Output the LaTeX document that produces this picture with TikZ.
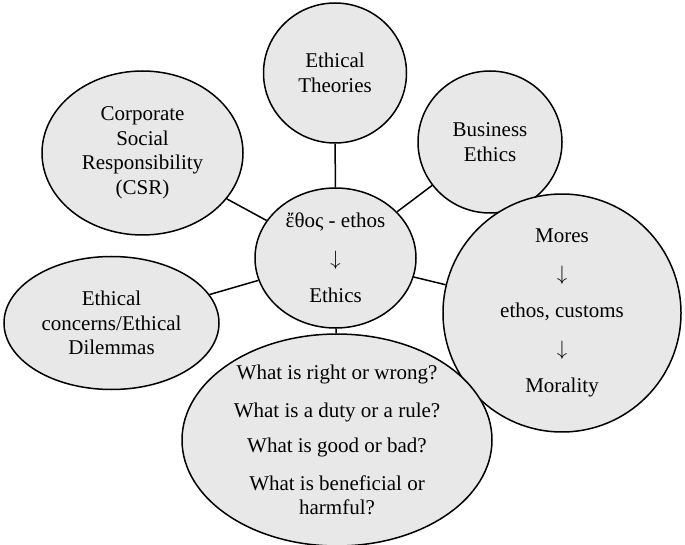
\documentclass[tikz,border=0pt]{standalone}
\usepackage{fontspec}
\setmainfont{Liberation Serif}
\usetikzlibrary{shapes.geometric}

\begin{document}
\begin{tikzpicture}[x=1pt,y=-1pt,
  bubble/.style={ellipse, draw=black, line width=1.5pt, fill=black!9,
    inner sep=0pt, align=center, font=\fontsize{21}{24.5}\selectfont},
  link/.style={line width=1.5pt}]
  \useasboundingbox (0,0) rectangle (685,545);

  % outer bubbles
  \node[bubble, minimum width=143, minimum height=140] (theories) at (335,73)
    {Ethical\\Theories};
  \node[bubble, minimum width=201, minimum height=164] (csr) at (142.5,153)
    {Corporate\\Social\\Responsibility\\(CSR)};
  \node[bubble, minimum width=144, minimum height=142] (business) at (490,142)
    {Business\\Ethics};
  \node[bubble, minimum width=215, minimum height=133] (dilemmas) at (111.5,323)
    {Ethical\\concerns/Ethical\\Dilemmas};
  \node[bubble, minimum width=238, minimum height=199] (mores) at (562,313)
    {Mores\\[13pt]$\downarrow$\\[13pt]ethos, customs\\[13pt]$\downarrow$\\[13pt]Morality};

  % centre and the questions below it
  \node[bubble, minimum width=161, minimum height=140] (ethos) at (335.5,258)
    {ἔθος - ethos\\[13pt]$\downarrow$\\[13pt]Ethics};
  \node[bubble, minimum width=310, minimum height=200] (questions) at (337,440)
    {What is right or wrong?\\[13pt]What is a duty or a rule?\\[11pt]What is good or bad?\\[13pt]What is beneficial or\\harmful?};

  \draw[link] (ethos) -- (theories);
  \draw[link] (ethos) -- (csr);
  \draw[link] (ethos) -- (business);
  \draw[link] (ethos) -- (dilemmas);
  \draw[link] (ethos) -- (mores);
  \draw[link] (ethos) -- (questions);
\end{tikzpicture}
\end{document}
